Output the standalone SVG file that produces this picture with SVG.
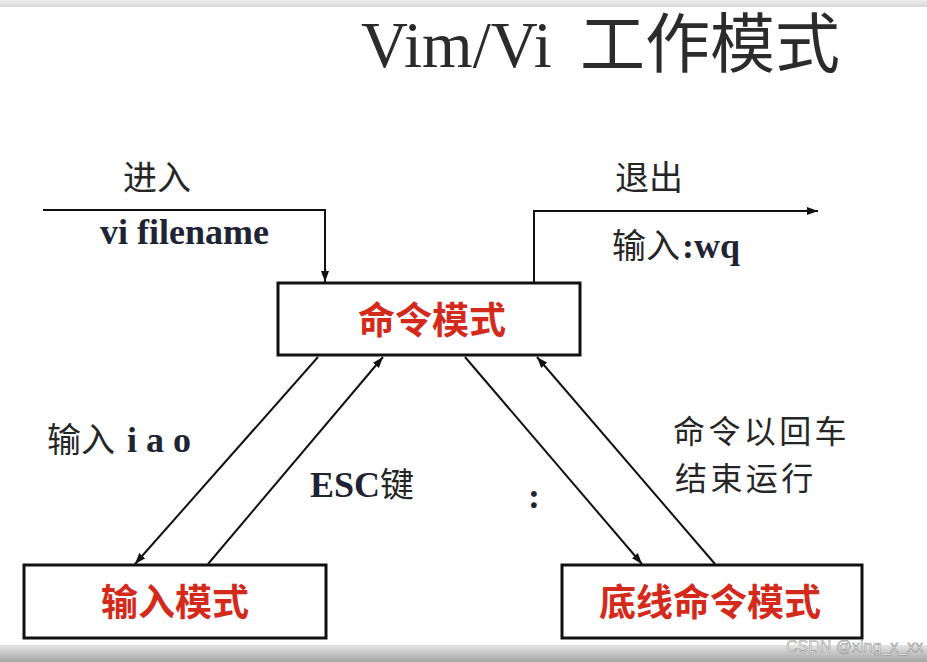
<svg xmlns="http://www.w3.org/2000/svg" width="927" height="662" viewBox="0 0 927 662">
<style>
.box{fill:#fff;stroke:#111;stroke-width:3}
.node-label{font-family:"Noto Sans CJK SC","Noto Sans",sans-serif;font-weight:bold;font-size:37px;fill:#d42a1c;text-anchor:middle}
.cjk{font-family:"Noto Sans CJK SC","Noto Sans",sans-serif;font-size:34px;fill:#262626}
.cjk2{font-family:"Noto Sans CJK SC","Noto Sans",sans-serif;font-size:32px;letter-spacing:3.4px;fill:#262626}
.ser{font-family:"Liberation Serif","Times New Roman",serif;font-weight:bold;font-size:36px;fill:#1f2333}
.conn{fill:none;stroke:#111;stroke-width:2}
</style>
<defs>
<marker id="arr" markerUnits="userSpaceOnUse" markerWidth="12" markerHeight="8" refX="11" refY="4" orient="auto">
<path d="M0,0 L11,4 L0,8 z" fill="#111"/>
</marker>
<linearGradient id="topbar" x1="0" y1="0" x2="0" y2="1">
<stop offset="0" stop-color="#ececec"/>
<stop offset="1" stop-color="#d6d6d6"/>
</linearGradient>
<linearGradient id="botbar" x1="0" y1="0" x2="0" y2="1">
<stop offset="0" stop-color="#e4e4e4"/>
<stop offset="1" stop-color="#a4a4a4"/>
</linearGradient>
</defs>
<rect x="0" y="0" width="927" height="662" fill="#fff"/>
<rect x="0" y="0" width="927" height="7" fill="url(#topbar)"/>
<rect x="0" y="645" width="927" height="17" fill="url(#botbar)"/>

<text x="361" y="67" font-family="Liberation Serif,'Noto Sans CJK SC',serif" font-size="65" fill="#2b2b2b">Vim/Vi<tspan x="580">工作模式</tspan></text>

<g id="connectors">
<path class="conn" d="M43,210 H325 V282" marker-end="url(#arr)"/>
<path class="conn" d="M534,283 V211 H818" marker-end="url(#arr)"/>
<path class="conn" d="M318,357 L135,564" marker-end="url(#arr)"/>
<path class="conn" d="M208,564 L383,357" marker-end="url(#arr)"/>
<path class="conn" d="M465,357 L642,564" marker-end="url(#arr)"/>
<path class="conn" d="M715,564 L537,357" marker-end="url(#arr)"/>
</g>

<g id="cmd-mode">
<rect class="box" x="278" y="283" width="302" height="72"/>
<text class="node-label" x="432" y="334">命令模式</text>
</g>
<g id="insert-mode">
<rect class="box" x="24" y="565" width="302" height="73"/>
<text class="node-label" x="175" y="616">输入模式</text>
</g>
<g id="lastline-mode">
<rect class="box" x="562" y="565" width="300" height="73"/>
<text class="node-label" x="710" y="616">底线命令模式</text>
</g>

<g id="labels">
<text class="cjk" x="123" y="190">进入</text>
<text class="ser" x="100" y="244">vi filename</text>
<text class="cjk" x="615" y="190">退出</text>
<text x="612" y="258"><tspan class="cjk">输入</tspan><tspan class="ser" x="682">:wq</tspan></text>
<text x="47" y="452"><tspan class="cjk">输入</tspan><tspan class="ser" x="127">i</tspan><tspan class="ser" x="146">a</tspan><tspan class="ser" x="173">o</tspan></text>
<text x="310" y="497"><tspan class="ser">ESC</tspan><tspan class="cjk">键</tspan></text>
<text class="ser" x="528" y="508">:</text>
<text class="cjk2" x="673" y="443">命令以回车</text>
<text class="cjk2" x="675" y="490">结束运行</text>
</g>

<text x="786" y="652" font-family="Liberation Sans,Arial,sans-serif" font-size="16" fill="#f6f6f6" stroke="#8a8a8a" stroke-width="0.5">CSDN @xing_x_xx</text>
</svg>
